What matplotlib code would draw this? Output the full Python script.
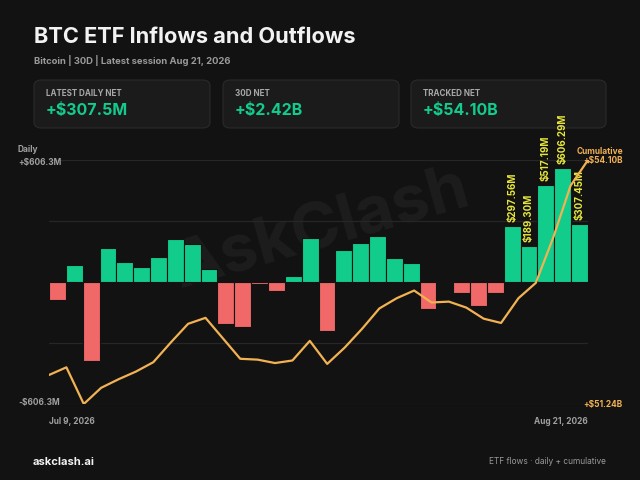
import matplotlib.pyplot as plt
import numpy as np
from matplotlib.patches import FancyBboxPatch

# daily net flows (millions USD), Jul 9 - Aug 21, 2026
daily = [-95, 90, -422, 182, 108, 80, 133, 226, 203, 69,
         -224, -238, -12, -49, 32, 232, -263, 170, 210, 242,
         129, 99, -143, 5, -60, -129, -57,
         297.56, 189.30, 517.19, 606.29, 307.45]
# cumulative net (billions USD)
cumulative = [51.58, 51.67, 51.24, 51.43, 51.53, 51.62, 51.73, 51.96, 52.18, 52.25,
              52.01, 51.77, 51.76, 51.72, 51.75, 51.98, 51.71, 51.90, 52.12, 52.36,
              52.48, 52.57, 52.43, 52.44, 52.37, 52.24, 52.19, 52.48, 52.66, 53.19,
              53.80, 54.10]
card_titles = ['LATEST DAILY NET', '30D NET', 'TRACKED NET']
card_values = ['+$307.5M', '+$2.42B', '+$54.10B']

BG = '#121212'
GREEN = '#12cc8c'
RED = '#f06868'
ORANGE = '#f2b253'
YELLOW = '#e6e63c'
GRID = '#262626'

plt.rcParams['font.family'] = ['Inter', 'DejaVu Sans']

fig = plt.figure(figsize=(6.4, 4.8), dpi=100, facecolor=BG)

def px(x, y):
    return x / 640, 1 - y / 480

# header
fig.text(*px(34, 37), 'BTC ETF Inflows and Outflows', color='#f2f2f2', fontsize=15.7,
         fontweight='bold', va='center', ha='left')
fig.text(*px(34, 60), 'Bitcoin | 30D | Latest session Aug 21, 2026', color='#9a9a9a',
         fontsize=6.8, fontweight='bold', va='center', ha='left')

cards = [(34, 210), (223, 399), (411, 606)]
for (x0, x1), t, v in zip(cards, card_titles, card_values):
    bx, by = px(x0, 128)
    w = (x1 - x0) / 640
    h = 48 / 480
    fig.patches.append(FancyBboxPatch((bx, by), w, h, boxstyle='round,pad=0,rounding_size=0.012',
                                      transform=fig.transFigure, facecolor='#1b1b1b',
                                      edgecolor='#2a2a2a', lw=0.8, zorder=0.5))
    fig.text(*px(x0 + 12, 94), t, color='#a8a8a8', fontsize=5.8, fontweight='bold', va='center')
    fig.text(*px(x0 + 12, 110), v, color=GREEN, fontsize=11.5, fontweight='bold', va='center')

# watermark
fig.text(*px(322, 230), 'AskClash', color='#1d1d1d', fontsize=47, fontweight='bold',
         rotation=16, ha='center', va='center', zorder=0.2)

# chart
ax = fig.add_axes([49 / 640, 1 - 404 / 480, 539 / 640, 244 / 480])
ax.set_zorder(2)
ax.set_facecolor('none')
n = len(daily)
x = np.arange(n)
lim = max(abs(v) for v in daily) * 1.07
ax.set_xlim(-0.5, n - 0.5)
ax.set_ylim(-lim, lim)
for f in [-1, -0.5, 0.5, 1]:
    ax.axhline(f * lim, color=GRID, lw=0.9, zorder=0)
colors = [GREEN if v >= 0 else RED for v in daily]
ax.bar(x, daily, width=1.0, color=colors, edgecolor=BG, lw=0.8, zorder=2)
for i in range(n - 5, n):
    ax.annotate('$%.2fM' % daily[i], (x[i], daily[i]), xytext=(0, 3), textcoords='offset points',
                rotation=90, ha='center', va='bottom', color=YELLOW, fontsize=7,
                fontweight='bold', annotation_clip=False, zorder=5)
ax.axis('off')

ax2 = ax.twinx()
ax2.set_zorder(3)
ax2.set_ylim(min(cumulative), max(cumulative))
ax2.set_xlim(-0.5, n - 0.5)
xc = np.linspace(-0.5, n - 0.5, n)
ax2.plot(xc, cumulative, color=ORANGE, lw=1.6, zorder=4)
ax2.plot(xc[-1], cumulative[-1], 'o', color=ORANGE, ms=3)
ax2.axis('off')

# axis text
fig.text(*px(18, 150), 'Daily', color='#a0a0a0', fontsize=6, fontweight='bold', va='center')
fig.text(*px(18, 162), '+$%.1fM' % max(daily), color='#a0a0a0', fontsize=6, fontweight='bold', va='center')
fig.text(*px(18, 402), '-$%.1fM' % max(daily), color='#a0a0a0', fontsize=6, fontweight='bold', va='center')
fig.text(*px(49, 421), 'Jul 9, 2026', color='#a0a0a0', fontsize=6, fontweight='bold', va='center')
fig.text(*px(588, 421), 'Aug 21, 2026', color='#a0a0a0', fontsize=6, fontweight='bold',
         va='center', ha='right')
fig.text(*px(623, 151), 'Cumulative', color=ORANGE, fontsize=6, fontweight='bold', va='center', ha='right')
fig.text(*px(623, 161), '+$%.2fB' % cumulative[-1], color=ORANGE, fontsize=6, fontweight='bold',
         va='center', ha='right')
fig.text(*px(623, 404), '+$%.2fB' % min(cumulative), color=ORANGE, fontsize=6, fontweight='bold',
         va='center', ha='right')

# footer
fig.text(*px(33, 462), 'askclash.ai', color='#f2f2f2', fontsize=8, fontweight='bold', va='center')
fig.text(*px(606, 462), 'ETF flows · daily + cumulative', color='#9a9a9a', fontsize=6,
         va='center', ha='right')

fig.savefig('out.png', dpi=100, facecolor=BG)
